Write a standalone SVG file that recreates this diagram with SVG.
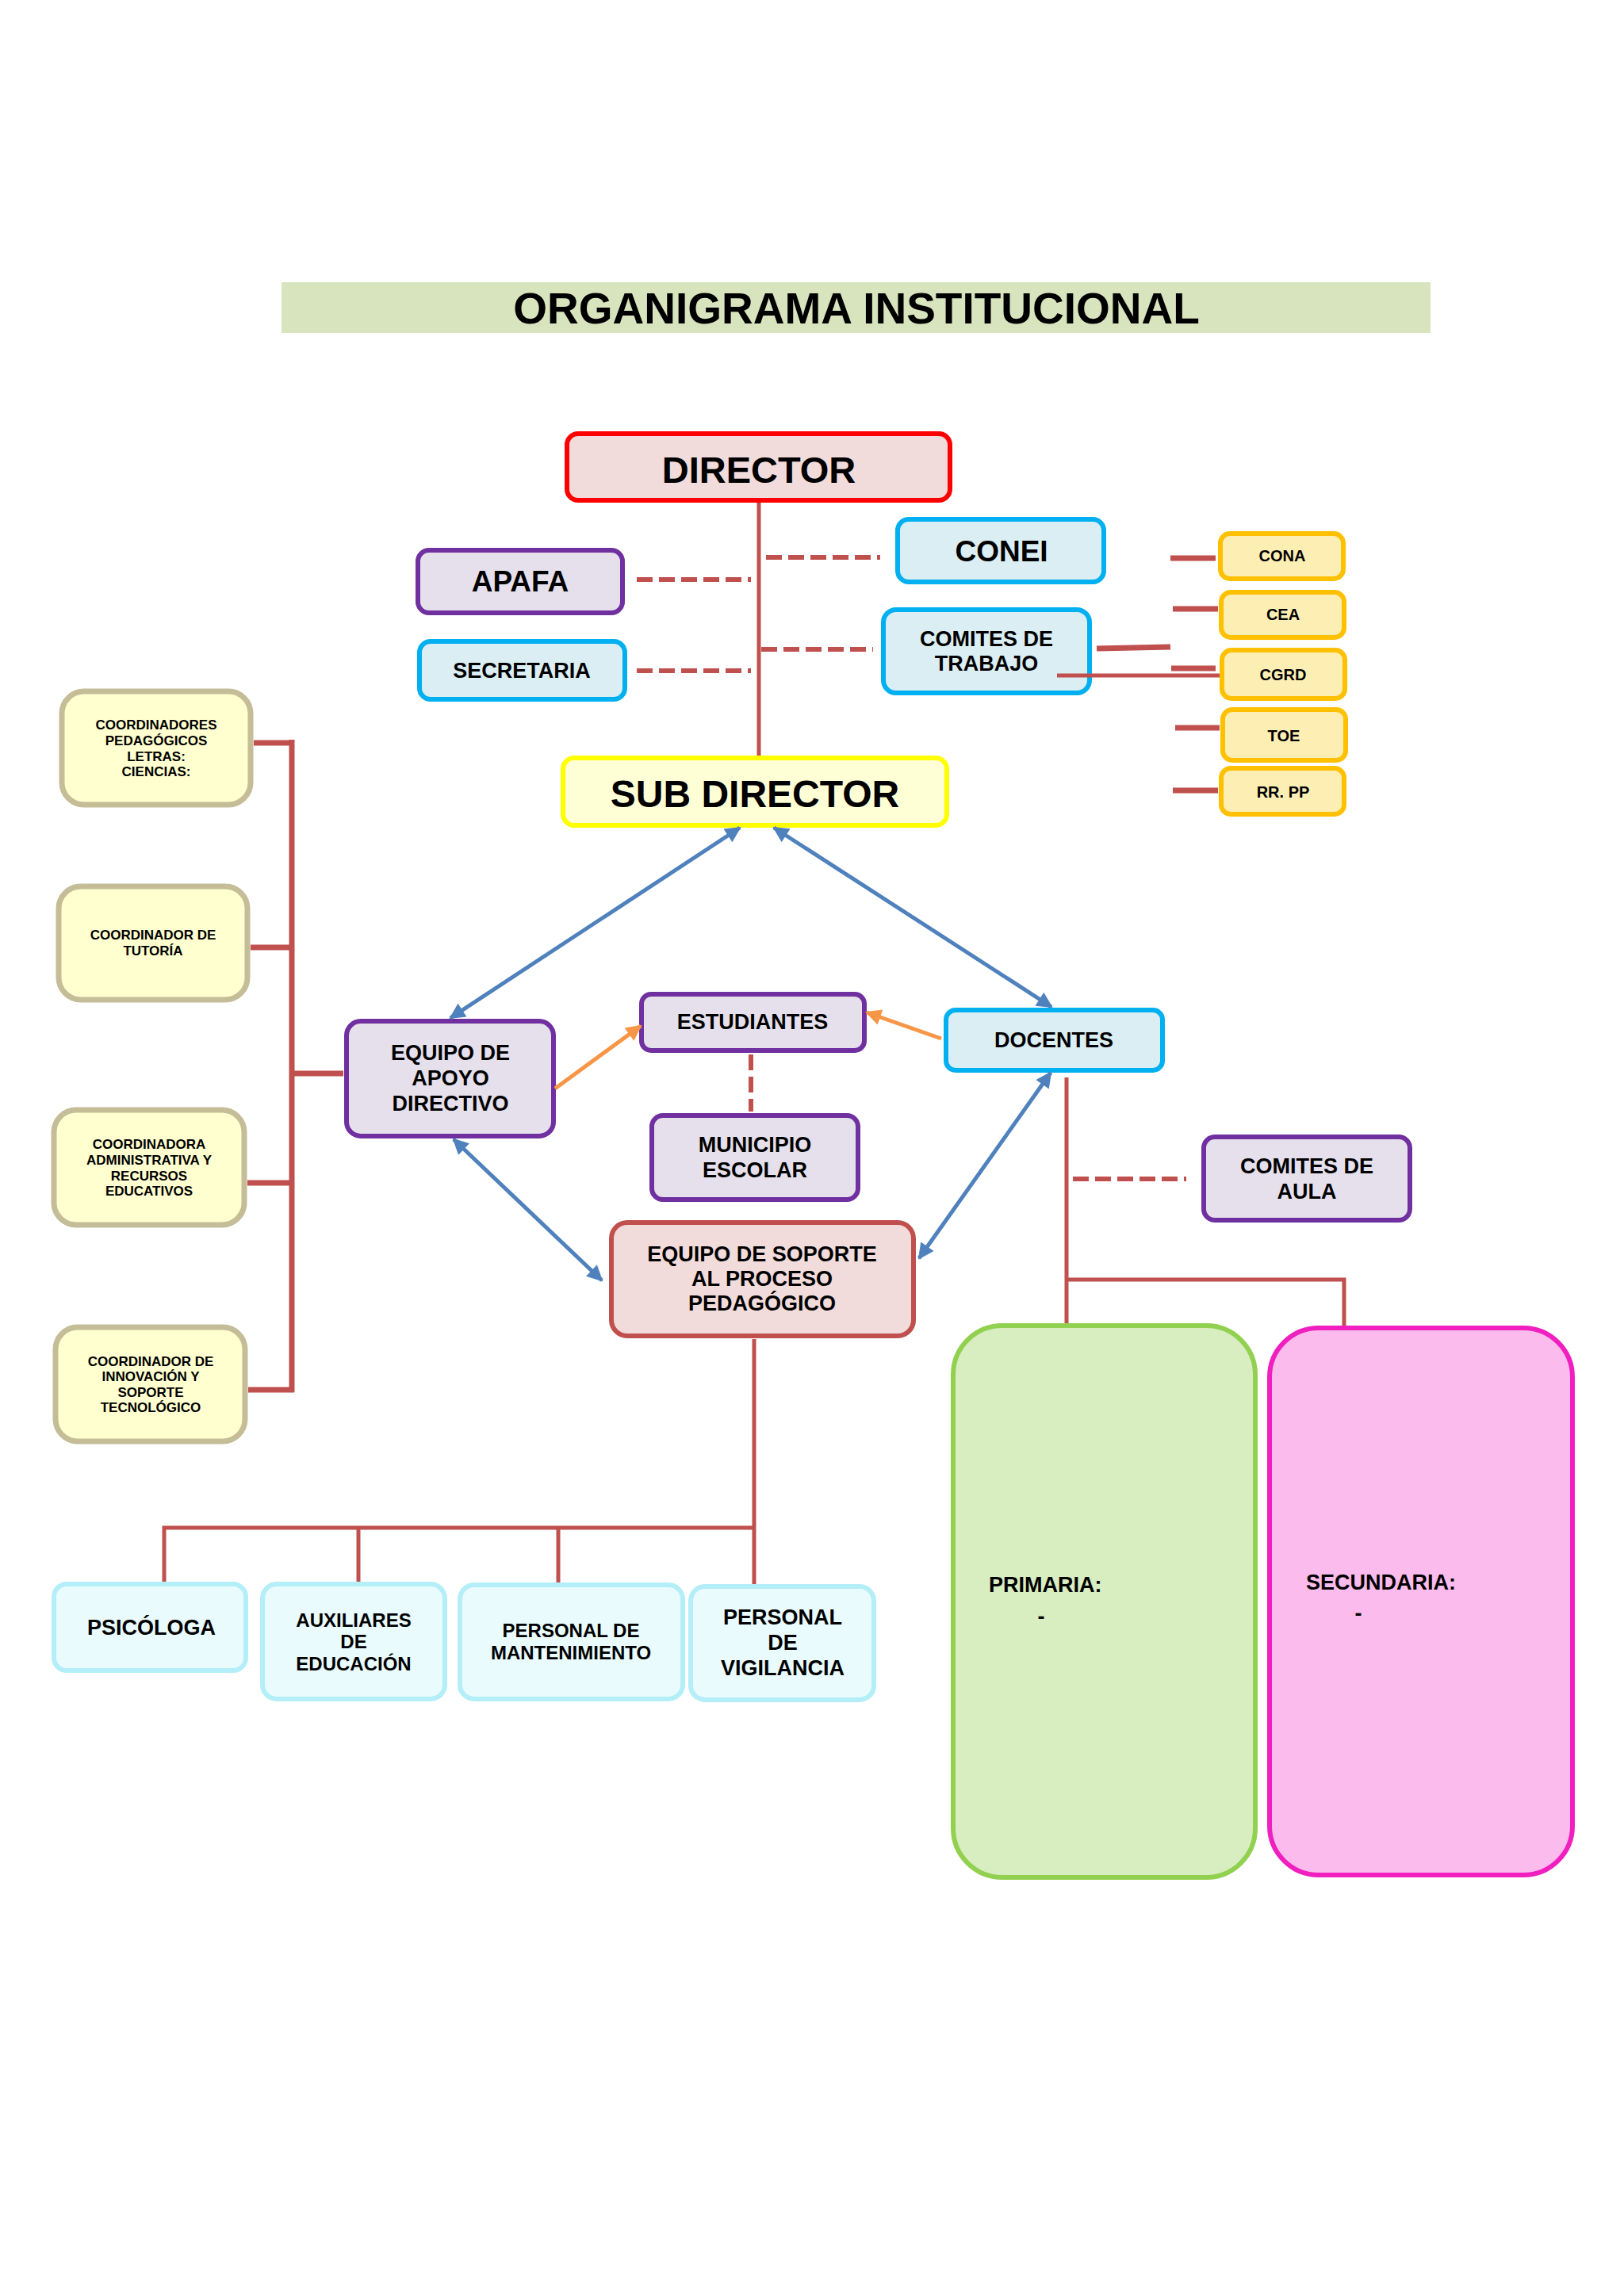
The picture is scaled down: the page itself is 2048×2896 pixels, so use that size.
<svg xmlns="http://www.w3.org/2000/svg" width="2048" height="2896" viewBox="0 0 2048 2896">
<defs>
<style>
text{font-family:"Liberation Sans",Arial,sans-serif;font-weight:bold;fill:#000;text-anchor:middle}
.red{fill:#f2dcdb;stroke:#ff0000;stroke-width:6}
.yel{fill:#ffffd6;stroke:#ffff00;stroke-width:6}
.blu{fill:#dbeef4;stroke:#00b0f0;stroke-width:6}
.pur{fill:#e5e0ec;stroke:#7030a0;stroke-width:6}
.org{fill:#fdefb4;stroke:#ffc000;stroke-width:6}
.crd{fill:#ffffcf;stroke:#c4bd97;stroke-width:7}
.sop{fill:#f2dcdb;stroke:#c0504d;stroke-width:6}
.cya{fill:#e9fbfd;stroke:#b4eef8;stroke-width:6}
.ln{stroke:#c0504d;stroke-width:5;fill:none}
.lnt{stroke:#c0504d;stroke-width:7;fill:none}
.dash{stroke:#c0504d;stroke-width:6;stroke-dasharray:20 8;fill:none}
.barr{stroke:#4f81bd;stroke-width:5;fill:none;marker-start:url(#bh);marker-end:url(#bh)}
.oarr{stroke:#f79646;stroke-width:5;fill:none;marker-end:url(#oh)}
</style>
<marker id="bh" viewBox="0 0 10 10" refX="9" refY="5" markerWidth="22" markerHeight="20" markerUnits="userSpaceOnUse" orient="auto-start-reverse"><path d="M0,0 L10,5 L0,10 Z" fill="#4f81bd"/></marker>
<marker id="oh" viewBox="0 0 10 10" refX="9" refY="5" markerWidth="22" markerHeight="20" markerUnits="userSpaceOnUse" orient="auto"><path d="M0,0 L10,5 L0,10 Z" fill="#f79646"/></marker>
</defs>
<rect width="2048" height="2896" fill="#ffffff"/>

<g id="title">
<rect x="355" y="356" width="1449" height="64" fill="#d7e4bd"/>
<text x="1080" y="408" font-size="55">ORGANIGRAMA INSTITUCIONAL</text>
</g>

<g id="director"><rect class="red" x="715" y="547" width="483" height="84" rx="14"/><text x="957" y="609" font-size="47">DIRECTOR</text></g>
<g id="conei"><rect class="blu" x="1132" y="655" width="260" height="79" rx="14"/><text x="1263" y="708" font-size="37">CONEI</text></g>
<g id="apafa"><rect class="pur" x="527" y="694" width="258" height="79" rx="14"/><text x="656" y="746" font-size="37">APAFA</text></g>
<g id="secretaria"><rect class="blu" x="529" y="809" width="259" height="73" rx="14"/><text x="658" y="855" font-size="27">SECRETARIA</text></g>
<g id="comites-trabajo"><rect class="blu" x="1114" y="769" width="260" height="105" rx="16"/><text x="1244" y="815" font-size="27">COMITES DE</text><text x="1244" y="846" font-size="27">TRABAJO</text></g>

<g id="cona"><rect class="org" x="1539" y="673" width="155" height="57" rx="12"/><text x="1617" y="708" font-size="20">CONA</text></g>
<g id="cea"><rect class="org" x="1540" y="747" width="155" height="57" rx="12"/><text x="1618" y="782" font-size="20">CEA</text></g>
<g id="cgrd"><rect class="org" x="1541" y="820" width="155" height="61" rx="12"/><text x="1618" y="858" font-size="20">CGRD</text></g>
<g id="toe"><rect class="org" x="1542" y="895" width="155" height="64" rx="12"/><text x="1619" y="935" font-size="20">TOE</text></g>
<g id="rrpp"><rect class="org" x="1540" y="969" width="155" height="58" rx="12"/><text x="1618" y="1006" font-size="20">RR. PP</text></g>

<g id="subdirector"><rect class="yel" x="710" y="956" width="484" height="85" rx="14"/><text x="952" y="1018" font-size="48">SUB DIRECTOR</text></g>

<g id="coord-pedagogicos"><rect class="crd" x="78" y="872" width="238" height="143" rx="28"/>
<text x="197" y="920" font-size="17">COORDINADORES</text><text x="197" y="940" font-size="17">PEDAGÓGICOS</text><text x="197" y="960" font-size="17">LETRAS:</text><text x="197" y="979" font-size="17">CIENCIAS:</text></g>
<g id="coord-tutoria"><rect class="crd" x="74" y="1118" width="238" height="143" rx="28"/>
<text x="193" y="1185" font-size="17">COORDINADOR DE</text><text x="193" y="1205" font-size="17">TUTORÍA</text></g>
<g id="coord-admin"><rect class="crd" x="68" y="1400" width="240" height="145" rx="28"/>
<text x="188" y="1449" font-size="17">COORDINADORA</text><text x="188" y="1469" font-size="17">ADMINISTRATIVA Y</text><text x="188" y="1489" font-size="17">RECURSOS</text><text x="188" y="1508" font-size="17">EDUCATIVOS</text></g>
<g id="coord-innovacion"><rect class="crd" x="70" y="1674" width="239" height="144" rx="28"/>
<text x="190" y="1723" font-size="17">COORDINADOR DE</text><text x="190" y="1742" font-size="17">INNOVACIÓN Y</text><text x="190" y="1762" font-size="17">SOPORTE</text><text x="190" y="1781" font-size="17">TECNOLÓGICO</text></g>

<g id="equipo-apoyo"><rect class="pur" x="437" y="1288" width="261" height="145" rx="18"/>
<text x="568" y="1337" font-size="27">EQUIPO DE</text><text x="568" y="1369" font-size="27">APOYO</text><text x="568" y="1401" font-size="27">DIRECTIVO</text></g>
<g id="estudiantes"><rect class="pur" x="809" y="1254" width="281" height="71" rx="12"/><text x="949" y="1298" font-size="27">ESTUDIANTES</text></g>
<g id="docentes"><rect class="blu" x="1193" y="1274" width="273" height="76" rx="12"/><text x="1329" y="1321" font-size="27">DOCENTES</text></g>
<g id="municipio"><rect class="pur" x="822" y="1407" width="260" height="106" rx="14"/><text x="952" y="1453" font-size="27">MUNICIPIO</text><text x="952" y="1485" font-size="27">ESCOLAR</text></g>
<g id="equipo-soporte"><rect class="sop" x="771" y="1542" width="381" height="143" rx="20"/>
<text x="961" y="1591" font-size="27">EQUIPO DE SOPORTE</text><text x="961" y="1622" font-size="27">AL PROCESO</text><text x="961" y="1653" font-size="27">PEDAGÓGICO</text></g>
<g id="comites-aula"><rect class="pur" x="1518" y="1434" width="260" height="105" rx="14"/><text x="1648" y="1480" font-size="27">COMITES DE</text><text x="1648" y="1512" font-size="27">AULA</text></g>

<g id="primaria"><rect x="1202" y="1672" width="381" height="696" rx="62" fill="#d8edc0" stroke="#92d050" stroke-width="6"/>
<text x="1247" y="2008" font-size="27" style="text-anchor:start">PRIMARIA:</text><text x="1313" y="2048" font-size="27">-</text></g>
<g id="secundaria"><rect x="1601" y="1675" width="382" height="690" rx="62" fill="#fbbbec" stroke="#f020c0" stroke-width="6"/>
<text x="1647" y="2005" font-size="27" style="text-anchor:start">SECUNDARIA:</text><text x="1713" y="2044" font-size="27">-</text></g>

<g id="psicologa"><rect class="cya" x="68" y="1998" width="242" height="109" rx="16"/><text x="191" y="2062" font-size="27">PSICÓLOGA</text></g>
<g id="auxiliares"><rect class="cya" x="331" y="1998" width="230" height="145" rx="18"/>
<text x="446" y="2052" font-size="24">AUXILIARES</text><text x="446" y="2079" font-size="24">DE</text><text x="446" y="2107" font-size="24">EDUCACIÓN</text></g>
<g id="mantenimiento"><rect class="cya" x="580" y="1999" width="281" height="144" rx="18"/>
<text x="720" y="2065" font-size="24">PERSONAL DE</text><text x="720" y="2093" font-size="24">MANTENIMIENTO</text></g>
<g id="vigilancia"><rect class="cya" x="871" y="2001" width="231" height="143" rx="18"/>
<text x="987" y="2049" font-size="27">PERSONAL</text><text x="987" y="2081" font-size="27">DE</text><text x="987" y="2113" font-size="27">VIGILANCIA</text></g>

<g id="connectors">
<line class="ln" x1="957" y1="634" x2="957" y2="953"/>
<line class="dash" x1="803" y1="731" x2="947" y2="731"/>
<line class="dash" x1="966" y1="703" x2="1110" y2="703"/>
<line class="dash" x1="803" y1="846" x2="947" y2="846"/>
<line class="dash" x1="960" y1="819" x2="1101" y2="819"/>
<line class="lnt" x1="1476" y1="704" x2="1533" y2="704"/>
<line class="lnt" x1="1479" y1="768" x2="1536" y2="768"/>
<line class="lnt" x1="1383" y1="818" x2="1476" y2="816"/>
<line class="lnt" x1="1477" y1="843" x2="1533" y2="843"/>
<line class="ln" x1="1333" y1="852" x2="1538" y2="852"/>
<line class="lnt" x1="1482" y1="918" x2="1538" y2="918"/>
<line class="lnt" x1="1479" y1="997" x2="1536" y2="997"/>
<line class="lnt" x1="368" y1="933" x2="368" y2="1756"/>
<line class="lnt" x1="320" y1="937" x2="371" y2="937"/>
<line class="lnt" x1="316" y1="1195" x2="368" y2="1195"/>
<line class="lnt" x1="312" y1="1492" x2="368" y2="1492"/>
<line class="lnt" x1="313" y1="1753" x2="371" y2="1753"/>
<line class="lnt" x1="368" y1="1354" x2="433" y2="1354"/>
<line class="barr" x1="933" y1="1044" x2="568" y2="1284"/>
<line class="barr" x1="976" y1="1044" x2="1326" y2="1270"/>
<line class="barr" x1="572" y1="1437" x2="759" y2="1615"/>
<line class="barr" x1="1325" y1="1353" x2="1159" y2="1587"/>
<line class="oarr" x1="700" y1="1373" x2="808" y2="1294"/>
<line class="oarr" x1="1187" y1="1310" x2="1093" y2="1277"/>
<line class="dash" x1="947" y1="1330" x2="947" y2="1402"/>
<line class="ln" x1="1345" y1="1359" x2="1345" y2="1669"/>
<line class="dash" x1="1353" y1="1487" x2="1496" y2="1487"/>
<polyline class="ln" points="1345,1614 1695,1614 1695,1672"/>
<line class="ln" x1="951" y1="1689" x2="951" y2="1998"/>
<polyline class="ln" points="951,1927 207,1927 207,1995"/>
<line class="ln" x1="452" y1="1927" x2="452" y2="1995"/>
<line class="ln" x1="704" y1="1927" x2="704" y2="1996"/>
</g>
</svg>
